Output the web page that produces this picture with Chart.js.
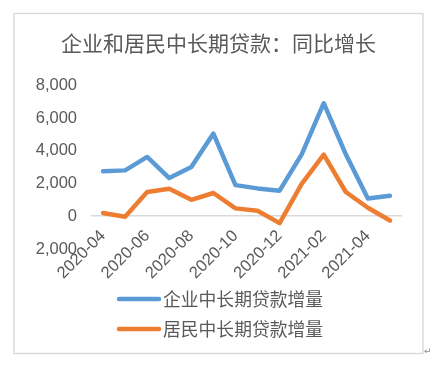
<!DOCTYPE html>
<html>
<head>
<meta charset="utf-8">
<script src="https://cdn.jsdelivr.net/npm/chart.js@4"></script>
<style>
  body { margin: 0; background: #fff; }
  #wrap { width: 441px; height: 372px; position: relative; }
</style>
</head>
<body>
<div id="wrap"><canvas id="loans"></canvas></div>
<script>
// months on the x axis
var months = ["2020-04", "2020-05", "2020-06", "2020-07", "2020-08", "2020-09", "2020-10",
              "2020-11", "2020-12", "2021-01", "2021-02", "2021-03", "2021-04", "2021-05"];
// 企业中长期贷款增量
var qiye = [2750, 2800, 3620, 2330, 3000, 5050, 1900, 1700, 1560, 3780, 6900, 3780, 1080, 1250];
// 居民中长期贷款增量
var jumin = [200, -30, 1480, 1680, 1000, 1420, 480, 340, -420, 1980, 3760, 1480, 520, -260];
var seriesNames = ["企业中长期贷款增量", "居民中长期贷款增量"];
var yTicks = [-2000, 0, 2000, 4000, 6000, 8000];

var grey = "#595959";

// frame, legend (stacked) and the little return mark
var framePlugin = {
  id: "frame",
  beforeDraw: function(chart) {
    var ctx = chart.ctx;
    ctx.save();
    ctx.fillStyle = "#fff";
    ctx.fillRect(0, 0, chart.width, chart.height);
    ctx.restore();
  },
  afterDraw: function(chart) {
    var ctx = chart.ctx;
    ctx.save();
    ctx.strokeStyle = "#d9d9d9";
    ctx.lineWidth = 1.4;
    ctx.strokeRect(14, 13.5, 409, 340);

    chart.data.datasets.forEach(function(ds, i) {
      var y = 299 + i * 30;
      ctx.strokeStyle = ds.borderColor;
      ctx.lineWidth = 4.5;
      ctx.lineCap = "round";
      ctx.beginPath();
      ctx.moveTo(119, y);
      ctx.lineTo(159, y);
      ctx.stroke();
      ctx.fillStyle = grey;
      ctx.font = "17.8px 'Noto Sans CJK SC', sans-serif";
      ctx.textAlign = "left";
      ctx.textBaseline = "middle";
      ctx.fillText(ds.label, 163, y);
    });

    ctx.fillStyle = "#888";
    ctx.font = "9px 'DejaVu Sans', sans-serif";
    ctx.textAlign = "left";
    ctx.textBaseline = "middle";
    ctx.fillText("\u21b5", 424, 352);
    ctx.restore();
  }
};

new Chart("loans", {
  type: "line",
  data: {
    labels: months,
    datasets: [{
      label: seriesNames[0],
      data: qiye,
      borderColor: "#5B9BD5",
      backgroundColor: "#5B9BD5"
    }, {
      label: seriesNames[1],
      data: jumin,
      borderColor: "#ED7D31",
      backgroundColor: "#ED7D31"
    }]
  },
  options: {
    responsive: true,
    maintainAspectRatio: false,
    animation: false,
    layout: {
      padding: { left: 36, right: 40, top: 0, bottom: 123 }
    },
    elements: {
      line: { borderWidth: 4.5, tension: 0, borderCapStyle: "round", borderJoinStyle: "round" },
      point: { radius: 0, hoverRadius: 0 }
    },
    plugins: {
      legend: { display: false },
      tooltip: { enabled: false },
      title: {
        display: true,
        text: "企业和居民中长期贷款：同比增长",
        color: grey,
        font: { family: "'Noto Sans CJK SC', sans-serif", size: 21, weight: "normal" },
        padding: { top: 30, bottom: 30 }
      }
    },
    scales: {
      x: {
        position: { y: 0 },
        offset: true,
        grid: { display: false, drawTicks: false, offset: true },
        border: { display: true, color: "#d9d9d9", width: 1.5 },
        ticks: {
          autoSkip: false,
          minRotation: 45,
          maxRotation: 45,
          padding: 10,
          color: grey,
          font: { family: "'Liberation Sans', sans-serif", size: 16.5 },
          callback: function(v, i) { return i % 2 === 0 ? months[i] : ""; }
        }
      },
      y: {
        min: yTicks[0],
        max: yTicks[yTicks.length - 1],
        grid: { display: false, drawTicks: false },
        border: { display: false },
        afterFit: function(scale) { scale.width = 56; },
        afterBuildTicks: function(scale) {
          scale.ticks = yTicks.map(function(v) { return { value: v }; });
        },
        ticks: {
          padding: 15,
          color: grey,
          font: { family: "'Liberation Sans', sans-serif", size: 16.5 },
          callback: function(v) { return v.toLocaleString("en-US"); }
        }
      }
    }
  },
  plugins: [framePlugin]
});
</script>
</body>
</html>
